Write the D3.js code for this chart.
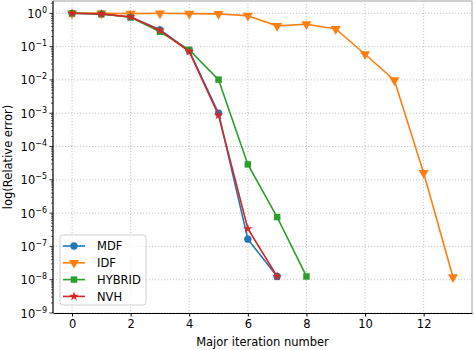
<!DOCTYPE html>
<html lang="en">
<head>
  <meta charset="UTF-8">
  <title>Relative error per iteration</title>
  <script src="https://d3js.org/d3.v7.min.js"></script>
  <style>
    body { margin: 0; padding: 0; background: #fff; }
    svg { display: block; font-family: "DejaVu Sans", sans-serif; }
    .grid line { stroke: #b8b8b8; stroke-dasharray: 1.2 1.8; stroke-width: 0.8; }
  </style>
</head>
<body>
  <svg id="chart" width="474" height="350"></svg>

  <script>
    const iterations = [0, 1, 2, 3, 4, 5, 6, 7, 8, 9, 10, 11, 12, 13];

    const mdf = [1.0, 0.95, 0.78, 0.32, 0.075, 1.0e-3, 1.65e-7, 1.25e-8];
    const idf = [1.0, 1.0, 0.98, 1.0, 0.98, 0.96, 0.85, 0.42, 0.47, 0.34, 0.059, 0.0098, 1.6e-5, 1.2e-8];
    const hybrid = [1.0, 0.96, 0.76, 0.28, 0.08, 0.0102, 2.9e-5, 7.6e-7, 1.25e-8];
    const nvh = [1.0, 0.96, 0.78, 0.31, 0.071, 8.7e-4, 3.4e-7, 1.25e-8];

    const seriesNames = ["MDF", "IDF", "HYBRID", "NVH"];
    const seriesValues = [mdf, idf, hybrid, nvh];
    const colors = ["#1f77b4", "#ff7f0e", "#2ca02c", "#d62728"];
    const symbols = [d3.symbolCircle, d3.symbolTriangle, d3.symbolSquare, d3.symbolStar];
    const symSize = [42, 44, 42, 28];

    const xTicks = [0, 2, 4, 6, 8, 10, 12];
    const yTicks = [0, -1, -2, -3, -4, -5, -6, -7, -8, -9];

    const svg = d3.select("#chart");
    const pLeft = 53, pRight = 472, pTop = 1, pBottom = 313;

    const x = d3.scaleLinear().domain([-0.65, 13.65]).range([pLeft, pRight]);
    const y = d3.scaleLog().domain([1e-9, Math.pow(10, 0.37)]).range([pBottom, pTop]);

    // grid
    const grid = svg.append("g").attr("class", "grid");
    grid.selectAll("line.v").data(xTicks).enter().append("line")
      .attr("x1", d => x(d)).attr("x2", d => x(d))
      .attr("y1", pTop).attr("y2", pBottom);
    grid.selectAll("line.h").data(yTicks).enter().append("line")
      .attr("x1", pLeft).attr("x2", pRight)
      .attr("y1", d => y(Math.pow(10, d))).attr("y2", d => y(Math.pow(10, d)));

    // frame: light top/right, dark left/bottom
    svg.append("line").attr("x1", pLeft).attr("x2", pRight).attr("y1", pTop).attr("y2", pTop)
      .attr("stroke", "#d0d0d0").attr("stroke-width", 2);
    svg.append("line").attr("x1", pRight).attr("x2", pRight).attr("y1", pTop).attr("y2", pBottom)
      .attr("stroke", "#d0d0d0").attr("stroke-width", 2);

    // x axis
    const xAxis = svg.append("g")
      .attr("transform", `translate(0,${pBottom})`)
      .call(d3.axisBottom(x).tickValues(xTicks).tickSize(3.5).tickPadding(3.5).tickSizeOuter(0));
    xAxis.select(".domain").attr("stroke", "#000").attr("stroke-width", 1.2);
    xAxis.selectAll("text").attr("font-size", 11.5).attr("font-family", "DejaVu Sans").attr("fill", "#000");

    // y axis (log) with minor ticks
    const minor = [];
    for (let e = -9; e < 1; e++) {
      for (let m = 2; m <= 9; m++) {
        const v = m * Math.pow(10, e);
        if (v <= y.domain()[1]) minor.push(v);
      }
    }
    const yg = svg.append("g").attr("transform", `translate(${pLeft},0)`);
    yg.append("line").attr("x1", 0).attr("x2", 0).attr("y1", pTop).attr("y2", pBottom)
      .attr("stroke", "#000").attr("stroke-width", 1.2);
    yg.selectAll("line.minor").data(minor).enter().append("line")
      .attr("x1", -2).attr("x2", 0)
      .attr("y1", d => y(d)).attr("y2", d => y(d))
      .attr("stroke", "#000").attr("stroke-width", 0.6);
    yg.selectAll("line.major").data(yTicks).enter().append("line")
      .attr("x1", -3.5).attr("x2", 0)
      .attr("y1", d => y(Math.pow(10, d))).attr("y2", d => y(Math.pow(10, d)))
      .attr("stroke", "#000").attr("stroke-width", 0.8);
    const lbl = yg.selectAll("text.tick").data(yTicks).enter().append("text")
      .attr("x", -6)
      .attr("y", d => y(Math.pow(10, d)) + 4.5)
      .attr("text-anchor", "end")
      .attr("font-size", 11.5);
    lbl.append("tspan").text("10");
    lbl.append("tspan").attr("dy", -5).attr("font-size", 8)
      .text(d => d === 0 ? "0" : "\u2212" + Math.abs(d));

    // lines and markers
    const line = d3.line().x((d, i) => x(iterations[i])).y(d => y(d));
    seriesValues.forEach((vals, k) => {
      const g = svg.append("g");
      g.append("path").datum(vals)
        .attr("d", line).attr("fill", "none")
        .attr("stroke", colors[k]).attr("stroke-width", 1.6);
      g.selectAll("path.m").data(vals).enter().append("path")
        .attr("transform", (d, i) => `translate(${x(iterations[i])},${y(d)})` + (k === 1 ? " rotate(180)" : ""))
        .attr("d", d3.symbol().type(symbols[k]).size(symSize[k]))
        .attr("fill", colors[k]);
    });

    // axis titles
    svg.append("text").attr("x", (pLeft + pRight) / 2).attr("y", 346)
      .attr("text-anchor", "middle").attr("font-size", 11.5)
      .text("Major iteration number");
    svg.append("text")
      .attr("transform", `translate(12,${(pTop + pBottom) / 2}) rotate(-90)`)
      .attr("text-anchor", "middle").attr("font-size", 11.5)
      .text("log(Relative error)");

    // legend
    const lg = svg.append("g").attr("transform", "translate(60,235)");
    lg.append("rect").attr("width", 86).attr("height", 70).attr("rx", 3)
      .attr("fill", "#fff").attr("fill-opacity", 0.8)
      .attr("stroke", "#d0d0d0").attr("stroke-width", 1);
    seriesNames.forEach((name, k) => {
      const yy = 11 + k * 16.8;
      lg.append("line").attr("x1", 3).attr("x2", 25).attr("y1", yy).attr("y2", yy)
        .attr("stroke", colors[k]).attr("stroke-width", 1.6);
      lg.append("path")
        .attr("transform", `translate(14,${yy})` + (k === 1 ? " rotate(180)" : ""))
        .attr("d", d3.symbol().type(symbols[k]).size(symSize[k]))
        .attr("fill", colors[k]);
      lg.append("text").attr("x", 37).attr("y", yy + 4.2)
        .attr("font-size", 11.5).text(name);
    });
  </script>
</body>
</html>
